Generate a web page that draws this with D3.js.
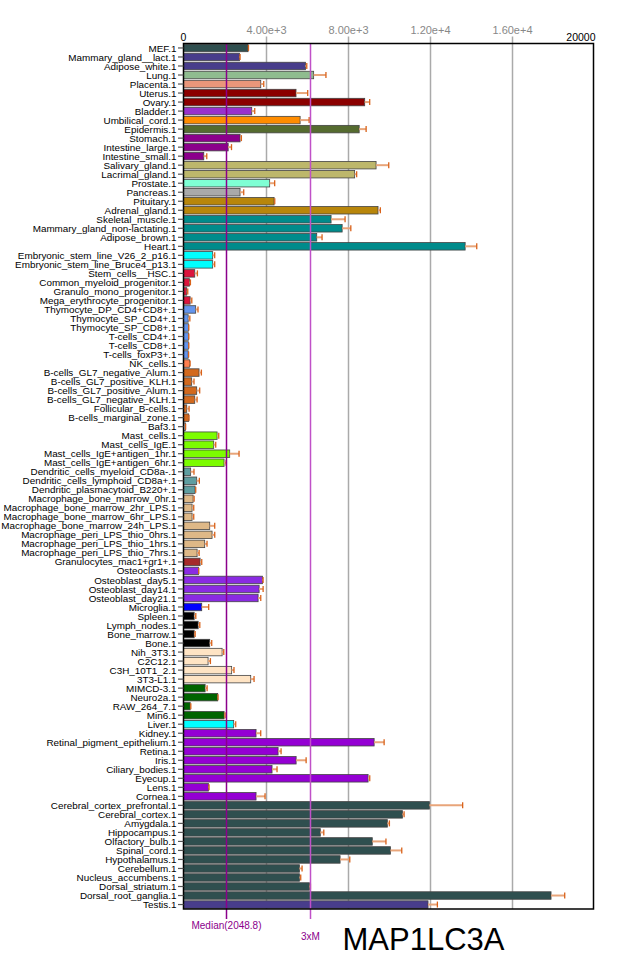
<!DOCTYPE html>
<html><head><meta charset="utf-8">
<script src="https://cdn.jsdelivr.net/npm/d3@7/dist/d3.min.js"></script>
<style>body{margin:0;background:#fff}svg{display:block}</style>
</head><body>
<script>
const categories = ["MEF.1","Mammary_gland__lact.1","Adipose_white.1","Lung.1","Placenta.1","Uterus.1","Ovary.1","Bladder.1","Umbilical_cord.1","Epidermis.1","Stomach.1","Intestine_large.1","Intestine_small.1","Salivary_gland.1","Lacrimal_gland.1","Prostate.1","Pancreas.1","Pituitary.1","Adrenal_gland.1","Skeletal_muscle.1","Mammary_gland_non-lactating.1","Adipose_brown.1","Heart.1","Embryonic_stem_line_V26_2_p16.1","Embryonic_stem_line_Bruce4_p13.1","Stem_cells__HSC.1","Common_myeloid_progenitor.1","Granulo_mono_progenitor.1","Mega_erythrocyte_progenitor.1","Thymocyte_DP_CD4+CD8+.1","Thymocyte_SP_CD4+.1","Thymocyte_SP_CD8+.1","T-cells_CD4+.1","T-cells_CD8+.1","T-cells_foxP3+.1","NK_cells.1","B-cells_GL7_negative_Alum.1","B-cells_GL7_positive_KLH.1","B-cells_GL7_positive_Alum.1","B-cells_GL7_negative_KLH.1","Follicular_B-cells.1","B-cells_marginal_zone.1","Baf3.1","Mast_cells.1","Mast_cells_IgE.1","Mast_cells_IgE+antigen_1hr.1","Mast_cells_IgE+antigen_6hr.1","Dendritic_cells_myeloid_CD8a-.1","Dendritic_cells_lymphoid_CD8a+.1","Dendritic_plasmacytoid_B220+.1","Macrophage_bone_marrow_0hr.1","Macrophage_bone_marrow_2hr_LPS.1","Macrophage_bone_marrow_6hr_LPS.1","Macrophage_bone_marrow_24h_LPS.1","Macrophage_peri_LPS_thio_0hrs.1","Macrophage_peri_LPS_thio_1hrs.1","Macrophage_peri_LPS_thio_7hrs.1","Granulocytes_mac1+gr1+.1","Osteoclasts.1","Osteoblast_day5.1","Osteoblast_day14.1","Osteoblast_day21.1","Microglia.1","Spleen.1","Lymph_nodes.1","Bone_marrow.1","Bone.1","Nih_3T3.1","C2C12.1","C3H_10T1_2.1","3T3-L1.1","MIMCD-3.1","Neuro2a.1","RAW_264_7.1","Min6.1","Liver.1","Kidney.1","Retinal_pigment_epithelium.1","Retina.1","Iris.1","Ciliary_bodies.1","Eyecup.1","Lens.1","Cornea.1","Cerebral_cortex_prefrontal.1","Cerebral_cortex.1","Amygdala.1","Hippocampus.1","Olfactory_bulb.1","Spinal_cord.1","Hypothalamus.1","Cerebellum.1","Nucleus_accumbens.1","Dorsal_striatum.1","Dorsal_root_ganglia.1","Testis.1"];
const values = [3100,2680,5900,6300,3720,5440,8790,3280,5640,8520,2710,2130,940,9345,8300,4155,2710,4370,9440,7150,7690,6450,13690,1375,1375,500,240,110,275,545,180,190,190,190,180,240,710,350,595,500,110,205,45,1590,1425,2205,1930,300,595,515,420,370,370,1230,1345,985,615,760,680,3800,3640,3590,840,470,665,470,1230,1835,1150,2300,3230,1005,1620,275,1930,2400,3490,9250,4565,5445,4270,8955,1165,3490,11945,10630,9895,6625,9160,10045,7590,5605,5605,6095,17880,11880];
const errors = [20,30,65,600,146,570,244,146,440,340,65,163,146,618,98,244,179,33,114,683,423,260,566,98,98,130,49,49,81,114,81,20,20,20,20,33,114,114,146,114,114,16,10,81,98,456,98,163,130,33,49,81,81,244,130,114,98,81,16,33,195,130,341,81,81,49,98,81,114,114,163,98,16,33,49,98,228,488,146,488,244,81,33,439,1624,82,100,170,667,553,472,130,65,49,667,456];
const colors = ["#2F4F4F","#483D8B","#483D8B","#8FBC8F","#E9967A","#8B0000","#8B0000","#9932CC","#FF8C00","#556B2F","#8B008B","#8B008B","#8B008B","#BDB76B","#BDB76B","#7FFFD4","#A9A9A9","#B8860B","#B8860B","#008B8B","#008B8B","#008B8B","#008B8B","#00FFFF","#00FFFF","#DC143C","#DC143C","#DC143C","#DC143C","#6495ED","#6495ED","#6495ED","#6495ED","#6495ED","#6495ED","#FF7F50","#D2691E","#D2691E","#D2691E","#D2691E","#D2691E","#D2691E","#A9A9A9","#7CFC00","#7CFC00","#7CFC00","#7CFC00","#5F9EA0","#5F9EA0","#5F9EA0","#DEB887","#DEB887","#DEB887","#DEB887","#DEB887","#DEB887","#DEB887","#A52A2A","#8A2BE2","#8A2BE2","#8A2BE2","#8A2BE2","#0000FF","#000000","#000000","#000000","#000000","#FFE4C4","#FFE4C4","#FFE4C4","#FFE4C4","#006400","#006400","#006400","#006400","#00FFFF","#9400D3","#9400D3","#9400D3","#9400D3","#9400D3","#9400D3","#9400D3","#9400D3","#2F4F4F","#2F4F4F","#2F4F4F","#2F4F4F","#2F4F4F","#2F4F4F","#2F4F4F","#2F4F4F","#2F4F4F","#2F4F4F","#2F4F4F","#483D8B"];
const gridTicks = [4000, 8000, 12000, 16000];
const gridLabels = ["4.00e+3","8.00e+3","1.20e+4","1.60e+4"];
const xDomain = [0, 20000];
const median = 2048.8;
const title = "MAP1LC3A";

(function () {
const W = 619, H = 970;
const pL = 183.5, pR = 593.5, pT = 43.5, pB = 909;
const svg = d3.select("body").append("svg").attr("width", W).attr("height", H);
const font = "'Liberation Sans', Arial, Helvetica, sans-serif";

const x = d3.scaleLinear().domain(xDomain).range([184.5, 594.5]);
const y = d3.scaleBand().domain(categories).range([pT, pB]).paddingInner(0.17).paddingOuter(0.08);

svg.append("g").selectAll("line").data(gridTicks).join("line")
  .attr("x1", d => x(d)).attr("x2", d => x(d))
  .attr("y1", pT - 7).attr("y2", pB)
  .attr("stroke", "#aaaaaa").attr("stroke-width", 1.5);
svg.append("g").selectAll("text").data(gridTicks).join("text")
  .attr("x", d => x(d)).attr("y", 33.5)
  .attr("text-anchor", "middle").attr("font-family", font).attr("font-size", 11)
  .attr("fill", "#888").text((d, i) => gridLabels[i]);
svg.append("text").attr("x", x(0) - 1).attr("y", 41).attr("text-anchor", "middle")
  .attr("font-family", font).attr("font-size", 10.5).attr("fill", "#000").text("0");
svg.append("text").attr("x", pR + 2).attr("y", 41).attr("text-anchor", "end")
  .attr("font-family", font).attr("font-size", 10.5).attr("fill", "#000").text(String(xDomain[1]));

const rows = categories.map((c, i) => ({c, v: values[i], e: errors[i], col: colors[i]}));
svg.append("g").selectAll("rect").data(rows).join("rect")
  .attr("x", pL).attr("y", d => y(d.c))
  .attr("width", d => Math.max(0, x(d.v) - pL)).attr("height", y.bandwidth())
  .attr("fill", d => d.col).attr("stroke", "#444").attr("stroke-width", 0.8);

const eb = svg.append("g");
eb.selectAll("line.e").data(rows).join("line").attr("class", "e")
  .attr("x1", d => x(d.v)).attr("x2", d => x(d.v + d.e))
  .attr("y1", d => y(d.c) + y.bandwidth() / 2).attr("y2", d => y(d.c) + y.bandwidth() / 2)
  .attr("stroke", "#E8A57A").attr("stroke-width", 2);
eb.selectAll("line.c").data(rows).join("line").attr("class", "c")
  .attr("x1", d => x(d.v + d.e)).attr("x2", d => x(d.v + d.e))
  .attr("y1", d => y(d.c) + y.bandwidth() / 2 - 3).attr("y2", d => y(d.c) + y.bandwidth() / 2 + 3)
  .attr("stroke", "#D9621A").attr("stroke-width", 1.3);

svg.append("line").attr("x1", x(median)).attr("x2", x(median)).attr("y1", pT).attr("y2", 919)
  .attr("stroke", "#8B008B").attr("stroke-width", 1.5);
svg.append("line").attr("x1", x(median * 3)).attr("x2", x(median * 3)).attr("y1", pT).attr("y2", 919)
  .attr("stroke", "#C050C8").attr("stroke-width", 1.5);
svg.append("text").attr("x", x(median)).attr("y", 929).attr("text-anchor", "middle")
  .attr("font-family", font).attr("font-size", 10).attr("fill", "#8B008B").text(`Median(${median})`);
svg.append("text").attr("x", x(median * 3)).attr("y", 940).attr("text-anchor", "middle")
  .attr("font-family", font).attr("font-size", 10).attr("fill", "#8B008B").text("3xM");

svg.append("rect").attr("x", pL).attr("y", pT).attr("width", pR - pL).attr("height", pB - pT)
  .attr("fill", "none").attr("stroke", "#000").attr("stroke-width", 1.5);

const ya = svg.append("g");
ya.selectAll("line").data(categories).join("line")
  .attr("x1", pL - 5.5).attr("x2", pL).attr("y1", d => y(d) + y.bandwidth() / 2).attr("y2", d => y(d) + y.bandwidth() / 2)
  .attr("stroke", "#555").attr("stroke-width", 1.2);
ya.selectAll("text").data(categories).join("text")
  .attr("x", pL - 7).attr("y", d => y(d) + y.bandwidth() / 2).attr("dy", "0.36em")
  .attr("text-anchor", "end").attr("font-family", font).attr("font-size", 9.9).attr("fill", "#000").text(d => d);

svg.append("text").attr("x", 423.5).attr("y", 950).attr("text-anchor", "middle")
  .attr("font-family", font).attr("font-size", 31).attr("fill", "#000").text(title);
})();
</script>
</body></html>
